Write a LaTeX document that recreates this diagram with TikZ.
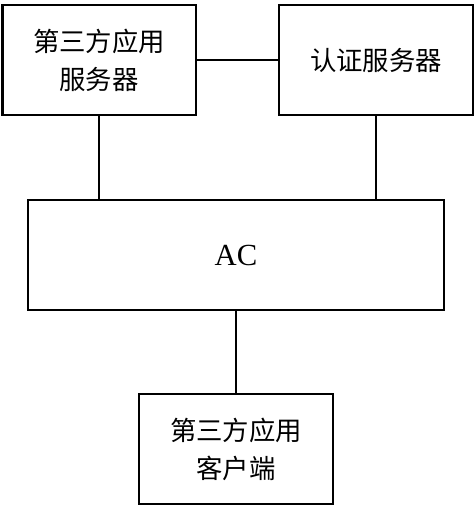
\documentclass[tikz,border=0pt]{standalone}
\usepackage{fontspec}
\setmainfont{Liberation Serif}
\newfontfamily\cjk{Noto Sans CJK SC}
\usetikzlibrary{positioning}
\tikzset{box/.style={draw,line width=1.5pt,minimum height=82.5pt,inner sep=0pt,align=center,font=\cjk\fontsize{19.8}{28.5}\selectfont},
    link/.style={line width=1.5pt}}

\begin{document}
\begin{tikzpicture}[x=0.75pt,y=-0.75pt]
    \useasboundingbox (0,0) rectangle (474,508);
    \node[box,minimum width=144.75pt] (srv) at (99,60) {第三方应用\\服务器};
    \node[box,minimum width=145.5pt] (auth) at (376,60) {认证服务器};
    \node[box,minimum width=312pt,font=\fontsize{23}{27}\selectfont] (ac) at (236,255) {AC};
    \node[box,minimum width=145.5pt,below=61.5pt of ac] (client) {第三方应用\\客户端};
    \draw[link] (srv) -- (auth);
    \draw[link] (srv.south) -- (srv.south |- ac.north);
    \draw[link] (auth.south) -- (auth.south |- ac.north);
    \draw[link] (ac) -- (client);
\end{tikzpicture}
\end{document}
